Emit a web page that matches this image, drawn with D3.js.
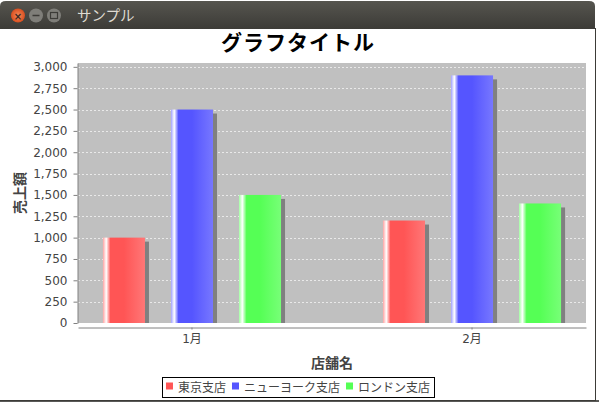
<!DOCTYPE html>
<html>
<head>
<meta charset="utf-8">
<script src="https://cdn.jsdelivr.net/npm/d3@7"></script>
<style>
	body { margin: 0; background: #ffffff; }
	svg { display: block; font-family: "DejaVu Sans", "Noto Sans CJK JP", sans-serif; }
	.tick text { fill: #444444; font-size: 12px; }
	.label { font-weight: bold; font-size: 14px; fill: #444444; }
</style>
</head>
<body>
<div id="data-viz"></div>
<script>

var categories = ["1月", "2月"]
var seriesNames = ["東京支店", "ニューヨーク支店", "ロンドン支店"]
var tokyo = [1000, 1200]
var newYork = [2500, 2900]
var london = [1500, 1400]
var seriesColors = ["#ff5555", "#5555ff", "#55ff55"]
var yTickValues = [0, 250, 500, 750, 1000, 1250, 1500, 1750, 2000, 2250, 2500, 2750, 3000]
var yMax = 3045

var seriesValues = [tokyo, newYork, london]

var width = 599,
	height = 402;

var svg = d3.select("#data-viz").append("svg")
	.attr("width", width)
	.attr("height", height)
	.attr("id", "svg");

var defs = svg.append("defs")

// window chrome
svg.append("rect").attr("x", 0).attr("y", 400).attr("width", width).attr("height", 2).attr("fill", "#5a5a58")

var barGrad = defs.append("linearGradient").attr("id", "titlebar").attr("x1", 0).attr("x2", 0).attr("y1", 0).attr("y2", 1)
barGrad.append("stop").attr("offset", "0%").attr("stop-color", "#56554f")
barGrad.append("stop").attr("offset", "100%").attr("stop-color", "#3c3b37")

svg.append("path")
	.attr("d", "M0,29 L0,6 Q0,1 6,1 L589,1 Q595,1 595,6 L595,29 Z")
	.attr("fill", "url(#titlebar)")

svg.append("line")
	.attr("x1", 595.5).attr("y1", 28).attr("x2", 595.5).attr("y2", 400)
	.attr("stroke", "#3c3b37")

svg.append("line")
	.attr("x1", 0).attr("y1", 400.5).attr("x2", 596).attr("y2", 400.5)
	.attr("stroke", "#3c3b37")

var closeGrad = defs.append("radialGradient").attr("id", "closebtn")
closeGrad.append("stop").attr("offset", "0%").attr("stop-color", "#f58a5a")
closeGrad.append("stop").attr("offset", "100%").attr("stop-color", "#d94e1f")

svg.append("circle").attr("cx", 18).attr("cy", 15.5).attr("r", 7).attr("fill", "url(#closebtn)")
svg.append("text").attr("x", 18).attr("y", 19.5).attr("text-anchor", "middle")
	.attr("font-size", 10).attr("font-weight", "bold").attr("fill", "#3c2a22").text("×")

svg.append("circle").attr("cx", 36).attr("cy", 15.5).attr("r", 7).attr("fill", "#7f7e79")
svg.append("line").attr("x1", 32.5).attr("x2", 39.5).attr("y1", 15.5).attr("y2", 15.5)
	.attr("stroke", "#3c3b37").attr("stroke-width", 1.5)

svg.append("circle").attr("cx", 54).attr("cy", 15.5).attr("r", 7).attr("fill", "#7f7e79")
svg.append("rect").attr("x", 50.5).attr("y", 12.5).attr("width", 7).attr("height", 6)
	.attr("fill", "none").attr("stroke", "#3c3b37").attr("stroke-width", 1.2)

svg.append("text")
	.attr("x", 77)
	.attr("y", 21)
	.attr("font-size", 14.5)
	.attr("fill", "#dfdbd2")
	.text("サンプル")

// chart
var margin = {top: 63, right: 13, bottom: 79, left: 78}
var plotW = width - margin.left - margin.right,
	plotH = height - margin.top - margin.bottom;

svg.append("text")
	.attr("x", 298)
	.attr("y", 50)
	.attr("text-anchor", "middle")
	.attr("font-size", 21)
	.attr("letter-spacing", 1)
	.attr("font-weight", "bold")
	.attr("fill", "#000000")
	.text("グラフタイトル");

var features = svg.append("g").attr("transform", "translate(" + margin.left + "," + margin.top + ")");

var x0 = d3.scaleBand()
	.domain(categories)
	.range([0, plotW])
	.paddingInner(0.364)
	.paddingOuter(0.089);

var x1 = d3.scaleBand()
	.domain(seriesNames)
	.range([0, x0.bandwidth()])
	.paddingInner(0.382);

var y = d3.scaleLinear()
	.domain([0, yMax])
	.range([plotH, 0]);

defs.append("clipPath").attr("id", "plotclip")
	.append("rect").attr("width", plotW).attr("height", plotH)

features.append("rect")
	.attr("width", plotW)
	.attr("height", plotH)
	.attr("fill", "#c0c0c0");

features.append("g")
	.selectAll("line")
	.data(yTickValues.filter(function(d) { return d > 0 }))
	.enter().append("line")
	.attr("x1", 0)
	.attr("x2", plotW)
	.attr("y1", function(d) { return Math.round(y(d)) + 0.5 })
	.attr("y2", function(d) { return Math.round(y(d)) + 0.5 })
	.attr("stroke", "#ffffff")
	.attr("stroke-opacity", 0.65)
	.attr("stroke-dasharray", "2,2");

// bar gradients, white highlight near the left edge
seriesColors.forEach(function(c, i) {
	var light = d3.interpolateRgb(c, "#ffffff")(0.2)
	var g = defs.append("linearGradient").attr("id", "bar" + i)
		.attr("x1", 0).attr("x2", 1).attr("y1", 0).attr("y2", 0)
	g.append("stop").attr("offset", "0%").attr("stop-color", d3.interpolateRgb(c, "#ffffff")(0.45))
	g.append("stop").attr("offset", "8%").attr("stop-color", "#ffffff")
	g.append("stop").attr("offset", "18%").attr("stop-color", c)
	g.append("stop").attr("offset", "50%").attr("stop-color", c)
	g.append("stop").attr("offset", "100%").attr("stop-color", light)
})

var bars = features.append("g").attr("clip-path", "url(#plotclip)")

var groups = bars.selectAll("g.cat")
	.data(categories)
	.enter().append("g")
	.attr("class", "cat")
	.attr("transform", function(d) { return "translate(" + x0(d) + ",0)" });

groups.selectAll("rect.shadow")
	.data(function(d, ci) { return seriesNames.map(function(s, si) { return {s: s, si: si, v: seriesValues[si][ci]} }) })
	.enter().append("rect")
	.attr("class", "shadow")
	.attr("x", function(d) { return x1(d.s) + 4 })
	.attr("y", function(d) { return y(d.v) + 4 })
	.attr("width", x1.bandwidth())
	.attr("height", function(d) { return plotH - y(d.v) })
	.attr("fill", "#808080");

groups.selectAll("rect.bar")
	.data(function(d, ci) { return seriesNames.map(function(s, si) { return {s: s, si: si, v: seriesValues[si][ci]} }) })
	.enter().append("rect")
	.attr("class", "bar")
	.attr("x", function(d) { return x1(d.s) })
	.attr("y", function(d) { return y(d.v) })
	.attr("width", x1.bandwidth())
	.attr("height", function(d) { return plotH - y(d.v) })
	.attr("fill", function(d) { return "url(#bar" + d.si + ")" });

var yAxis = d3.axisLeft(y)
	.tickValues(yTickValues)
	.tickFormat(d3.format(","))
	.tickSize(4)
	.tickSizeOuter(0)
	.tickPadding(6);

var xAxis = d3.axisBottom(x0)
	.tickSize(2)
	.tickSizeOuter(0)
	.tickPadding(5);

var yAxisG = features.append("g")
	.attr("class", "y axis")
	.attr("transform", "translate(-0.5,0)")
	.call(yAxis)

var xAxisG = features.append("g")
	.attr("class", "x axis")
	.attr("transform", "translate(0," + (plotH + 4.5) + ")")
	.call(xAxis)

features.selectAll(".axis").attr("font-family", null).attr("font-size", null)
features.selectAll(".axis .domain").attr("stroke", "#808080")
features.selectAll(".axis .tick line").attr("stroke", "#808080")

features.append("text")
	.attr("transform", "translate(-53.5," + (plotH / 2) + ") rotate(-90)")
	.attr("text-anchor", "middle")
	.attr("class", "label")
	.text("売上額");

features.append("text")
	.attr("x", plotW / 2)
	.attr("y", plotH + 45)
	.attr("text-anchor", "middle")
	.attr("class", "label")
	.text("店舗名");

// legend
var legend = svg.append("g")
var items = legend.selectAll("g")
	.data(seriesNames)
	.enter().append("g")

items.append("rect")
	.attr("width", 7)
	.attr("height", 7)
	.attr("y", 382.5)
	.attr("fill", function(d, i) { return seriesColors[i] });

items.append("text")
	.attr("x", 12)
	.attr("y", 392)
	.attr("font-size", 12)
	.attr("fill", "#444444")
	.text(function(d) { return d });

var offsets = []
var total = 0
items.each(function() {
	var w = 12 + d3.select(this).select("text").node().getComputedTextLength()
	offsets.push(total)
	total += w + 6
})
total -= 6

var legendLeft = 298 - total / 2
items.attr("transform", function(d, i) { return "translate(" + (legendLeft + offsets[i]) + ",0)" })

legend.insert("rect", ":first-child")
	.attr("x", Math.round(legendLeft - 4) + 0.5)
	.attr("y", 377.5)
	.attr("width", Math.round(total + 8))
	.attr("height", 20)
	.attr("fill", "#ffffff")
	.attr("stroke", "#000000");

</script>
</body>
</html>
